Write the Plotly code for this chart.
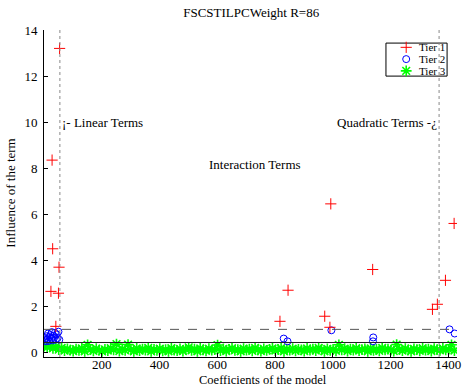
import plotly.graph_objects as go

# Tier 1 (red +)
red_x = [24, 28, 30, 41, 50, 52, 54, 817, 845, 972, 990, 993, 1138, 1345, 1362, 1390, 1420]
red_y = [2.65, 8.35, 4.5, 1.13, 2.57, 3.7, 13.2, 1.35, 2.7, 1.57, 1.09, 6.45, 3.6, 1.87, 2.09, 3.13, 5.6]

# Tier 2 (blue o)
blue_x = [2, 4, 7, 9, 12, 14, 17, 19, 22, 25, 27, 30, 33, 35, 38, 41, 44, 47, 50, 53,
          830, 843, 995, 1140, 1139, 1404, 1422]
blue_y = [0.55, 0.62, 0.48, 0.70, 0.58, 0.82, 0.50, 0.66, 0.75, 0.60, 0.88, 0.52, 0.72, 0.64,
          0.85, 0.56, 0.78, 0.62, 0.90, 0.55, 0.60, 0.48, 0.96, 0.65, 0.48, 1.00, 0.82]

# Tier 3 (green *), one value per coefficient block of 10
green_y = [
    0.28, 0.22, 0.30, 0.18, 0.25, 0.12, 0.20, 0.08, 0.15, 0.10,
    0.06, 0.14, 0.09, 0.17, 0.05, 0.33, 0.12, 0.07, 0.16, 0.10,
    0.04, 0.13, 0.08, 0.18, 0.11, 0.36, 0.06, 0.15, 0.09, 0.34,
    0.12, 0.05, 0.17, 0.08, 0.14, 0.10, 0.19, 0.04, 0.13, 0.09,
    0.16, 0.07, 0.12, 0.05, 0.18, 0.10, 0.08, 0.15, 0.06, 0.13,
    0.22, 0.09, 0.14, 0.05, 0.17, 0.11, 0.07, 0.16, 0.10, 0.12,
    0.32, 0.08, 0.15, 0.06, 0.13, 0.18, 0.09, 0.12, 0.05, 0.16,
    0.10, 0.14, 0.07, 0.19, 0.11, 0.06, 0.15, 0.09, 0.13, 0.17,
    0.08, 0.12, 0.18, 0.05, 0.14, 0.10, 0.16, 0.07, 0.13, 0.11,
    0.06, 0.17, 0.10, 0.14, 0.08, 0.19, 0.12, 0.05, 0.15, 0.09,
    0.13, 0.07, 0.33, 0.11, 0.16, 0.06, 0.14, 0.10, 0.18, 0.08,
    0.12, 0.15, 0.05, 0.17, 0.09, 0.13, 0.07, 0.19, 0.11, 0.14,
    0.10, 0.06, 0.34, 0.13, 0.08, 0.16, 0.11, 0.05, 0.15, 0.12,
    0.07, 0.18, 0.10, 0.14, 0.06, 0.16, 0.12, 0.09, 0.17, 0.11,
    0.13, 0.33, 0.08,
]
green_x = list(range(1, 1 + 10 * len(green_y), 10))

x_ticks = [200, 400, 600, 800, 1000, 1200, 1400]
y_ticks = [0, 2, 4, 6, 8, 10, 12, 14]
legend_names = ["Tier 1", "Tier 2", "Tier 3"]

linear_end = 55
quadratic_start = 1368
threshold_dashed = 1.0
threshold_solid = 0.43

FONT = "Liberation Serif"
RED, BLUE, GREEN = "#ff0000", "#0000ff", "#00ff00"
styles = [
    dict(symbol="cross-thin-open", size=8, color=RED, line=dict(color=RED, width=1)),
    dict(symbol="circle-open", size=7, color=BLUE, line=dict(color=BLUE, width=1)),
    dict(symbol="asterisk-open", size=9, color=GREEN, line=dict(color=GREEN, width=1.6)),
]

fig = go.Figure()
fig.add_trace(go.Scatter(x=green_x, y=green_y, mode="markers", name="Tier 3",
                         marker=styles[2], showlegend=False))
fig.add_trace(go.Scatter(x=blue_x, y=blue_y, mode="markers", name="Tier 2",
                         marker=styles[1], showlegend=False))
fig.add_trace(go.Scatter(x=red_x, y=red_y, mode="markers", name="Tier 1",
                         marker=styles[0], showlegend=False))

# reference lines
fig.add_shape(type="line", xref="x", yref="paper", x0=linear_end, x1=linear_end, y0=0, y1=1,
              line=dict(color="#888888", width=1, dash="dot"))
fig.add_shape(type="line", xref="x", yref="paper", x0=quadratic_start, x1=quadratic_start, y0=0, y1=1,
              line=dict(color="#888888", width=1, dash="dot"))
fig.add_shape(type="line", xref="x", yref="y", x0=0, x1=1430, y0=threshold_dashed, y1=threshold_dashed,
              line=dict(color="#555555", width=1, dash="dash"))
fig.add_shape(type="line", xref="x", yref="y", x0=0, x1=1430, y0=threshold_solid, y1=threshold_solid,
              line=dict(color="#222222", width=1))

fig.add_annotation(x=linear_end, y=10, text="¡- Linear Terms", showarrow=False,
                   xanchor="left", yanchor="middle", font=dict(family=FONT, size=13, color="black"))
fig.add_annotation(x=quadratic_start, y=10, text="Quadratic Terms -¿", showarrow=False,
                   xanchor="right", yanchor="middle", font=dict(family=FONT, size=13, color="black"))
fig.add_annotation(x=730, y=8.15, text="Interaction Terms", showarrow=False,
                   xanchor="center", yanchor="middle", font=dict(family=FONT, size=13, color="black"))

# axis titles
fig.add_annotation(xref="paper", yref="paper", x=0.53, y=-0.069, text="Coefficients of the model",
                   showarrow=False, xanchor="center", yanchor="middle", borderpad=0,
                   font=dict(family=FONT, size=12.5, color="black"))
fig.add_annotation(xref="paper", yref="paper", x=-0.082, y=0.5, text="Influence of the term",
                   showarrow=False, xanchor="center", yanchor="middle", textangle=-90,
                   font=dict(family=FONT, size=13, color="black"))

# MATLAB-style compact legend box (drawn in paper coordinates)
fig.add_shape(type="rect", xref="paper", yref="paper", x0=0.828, x1=0.976, y0=0.859, y1=0.960,
              line=dict(color="black", width=1), fillcolor="white", layer="below")
leg_y = [0.947, 0.911, 0.875]
for name, st, yy in zip(legend_names, styles, leg_y):
    fig.add_trace(go.Scatter(x=[0.877], y=[yy], mode="markers", marker=st, xaxis="x2", yaxis="y2",
                             showlegend=False, hoverinfo="skip"))
    fig.add_annotation(xref="paper", yref="paper", x=0.905, y=yy, text=name, showarrow=False,
                       xanchor="left", yanchor="middle", borderpad=0,
                       font=dict(family=FONT, size=11, color="black"))

fig.update_layout(
    width=474, height=387,
    margin=dict(l=44, r=17, t=30, b=30, autoexpand=False),
    paper_bgcolor="white", plot_bgcolor="white",
    font=dict(family=FONT, size=13, color="black"),
    title=dict(text="FSCSTILPCWeight R=86", x=0.53, xanchor="center", y=0.968, yanchor="middle",
               font=dict(family=FONT, size=13, color="black")),
    showlegend=False,
    xaxis=dict(range=[0, 1430], tickvals=x_ticks, showline=True, linecolor="black",
               ticks="inside", ticklen=4, tickcolor="black", showgrid=False, zeroline=False,
               automargin=False, ticklabelstandoff=-5, tickfont=dict(family=FONT, size=13)),
    yaxis=dict(range=[-0.2, 14], tickvals=y_ticks, showline=True, linecolor="black",
               ticks="inside", ticklen=4, tickcolor="black", showgrid=False, zeroline=False,
               automargin=False, ticklabelstandoff=3, tickfont=dict(family=FONT, size=13)),
    xaxis2=dict(overlaying="x", range=[0, 1], visible=False),
    yaxis2=dict(overlaying="y", range=[0, 1], visible=False),
)

fig.write_html("out.html", config={"displayModeBar": False},
               post_script="document.body.style.margin='0';")
